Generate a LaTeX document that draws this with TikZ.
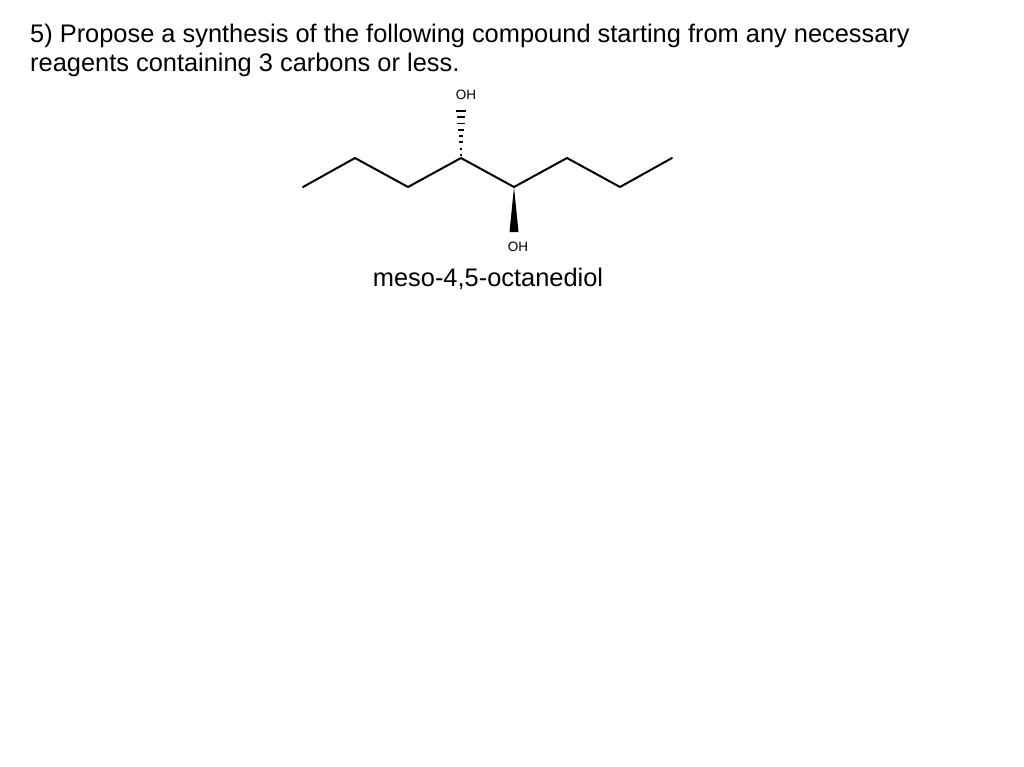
\documentclass[tikz,border=0pt]{standalone}
\usepackage{fontspec}
\setmainfont{Liberation Sans}
\begin{document}
\begin{tikzpicture}[x=1pt,y=-1pt,
  bond/.style={line width=2pt,line cap=round,line join=round},
  title/.style={anchor=base west,inner sep=0pt,font=\fontsize{25.4}{29}\selectfont},
  atom/.style={inner sep=0pt,font=\fontsize{13.5}{15}\selectfont}]
\useasboundingbox (0,0) rectangle (1024,766);
\node[title] (t1) at (30,42) {5) Propose a synthesis of the following compound starting from any necessary};
\node[title] (t2) at (30,71) {reagents containing 3 carbons or less.};
\coordinate (c1) at (303,187);
\coordinate (c2) at (355,158);
\coordinate (c3) at (408,187);
\coordinate (c4) at (461,158);
\coordinate (c5) at (514,187);
\coordinate (c6) at (567,158);
\coordinate (c7) at (620,187);
\coordinate (c8) at (672,158);
\draw[bond] (c1)--(c2)--(c3)--(c4)--(c5)--(c6)--(c7)--(c8);
\node[atom,anchor=base] (oh1) at (466,99) {OH};
\node[atom,anchor=base] (oh2) at (518,251) {OH};
% hashed bond
\foreach \i in {0,...,7}{
  \pgfmathsetmacro{\yy}{155-\i*6.3}
  \pgfmathsetmacro{\hw}{0.8+\i*0.55}
  \draw[line width=1.9pt] (461-\hw,\yy)--(461+\hw,\yy);
}
% wedge bond
\fill (c5) -- (518.5,232) -- (509.5,232) -- cycle;
\node[anchor=base,inner sep=0pt,font=\fontsize{25.4}{29}\selectfont] (nm) at (488,286) {meso-4,5-octanediol};
\end{tikzpicture}
\end{document}
